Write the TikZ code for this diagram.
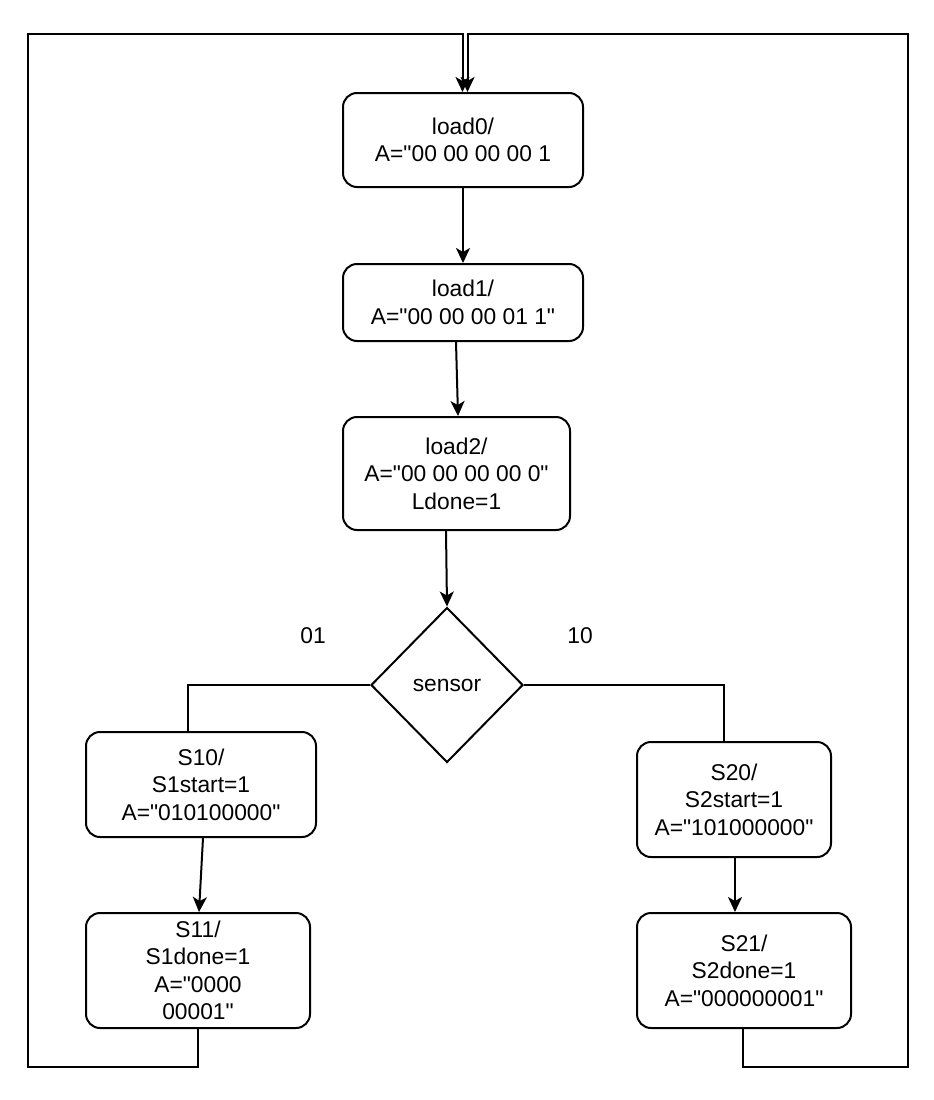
\documentclass[tikz,border=0pt]{standalone}
\usepackage{fontspec}
\setmainfont{Liberation Sans}[Ligatures=TeXOff]
\usetikzlibrary{arrows.meta,calc,shapes.geometric}

\tikzset{
  state/.style={draw, rounded corners=14pt, align=center, inner sep=0pt, line width=2pt},
  arr/.style={-{Stealth[length=15pt,width=14pt,inset=4pt]}, line width=2pt},
  wire/.style={line width=2pt},
}

\begin{document}
\begin{tikzpicture}[x=1pt,y=-1pt,font=\fontsize{22.8}{27.4}\selectfont]
  \useasboundingbox (0,0) rectangle (934,1100);

  % load states
  \node[state, minimum width=240pt, minimum height=94pt] (load0) at (463,140) {load0/\\A="00 00 00 00 1};
  \node[state, minimum width=240pt, minimum height=77pt] (load1) at (463,302.5) {load1/\\A="00 00 00 01 1"};
  \node[state, minimum width=227pt, minimum height=113pt] (load2) at (456.5,473.5) {load2/\\A="00 00 00 00 0"\\Ldone=1};

  % decision
  \node[draw, diamond, minimum width=152pt, minimum height=155pt, inner sep=0pt, line width=2pt] (sensor) at (447,685) {sensor};
  \node (lbl01) at (313,636) {01};
  \node (lbl10) at (580,636) {10};

  % sensor 1 branch
  \node[state, minimum width=230pt, minimum height=105pt] (s10) at (201,784.5) {S10/\\S1start=1\\A="010100000"};
  \node[state, minimum width=224pt, minimum height=115pt] (s11) at (198,970.5) {S11/\\S1done=1\\A="0000\\00001"};

  % sensor 2 branch
  \node[state, minimum width=194pt, minimum height=115pt] (s20) at (734,799.5) {S20/\\S2start=1\\A="101000000"};
  \node[state, minimum width=214pt, minimum height=115pt] (s21) at (744,970.5) {S21/\\S2done=1\\A="000000001"};

  % transitions
  \draw[arr] (load0.south) -- (load1.north);
  \draw[arr] ($(load1.south)+(-7,0)$) -- ($(load2.north)+(1.5,0)$);
  \draw[arr] ($(load2.south)+(-10.5,0)$) -- (sensor.north);
  \draw[wire] (sensor.west) -| ($(s10.north)+(-13,0)$);
  \draw[wire] (sensor.east) -| ($(s20.north)+(-10,0)$);
  \draw[arr] ($(s10.south)+(2,0)$) -- ($(s11.north)+(1,0)$);
  \draw[arr] ($(s20.south)+(1,0)$) -- ($(s21.north)+(-9,0)$);

  % back to load0
  \draw[arr] (s11.south) -- ++(0,38) -| (28,34) -| ($(load0.north)+(-0.5,0)$);
  \draw[arr] ($(s21.south)+(-1,0)$) -- ++(0,38) -| (908,34) -| ($(load0.north)+(4.5,0)$);
\end{tikzpicture}
\end{document}
